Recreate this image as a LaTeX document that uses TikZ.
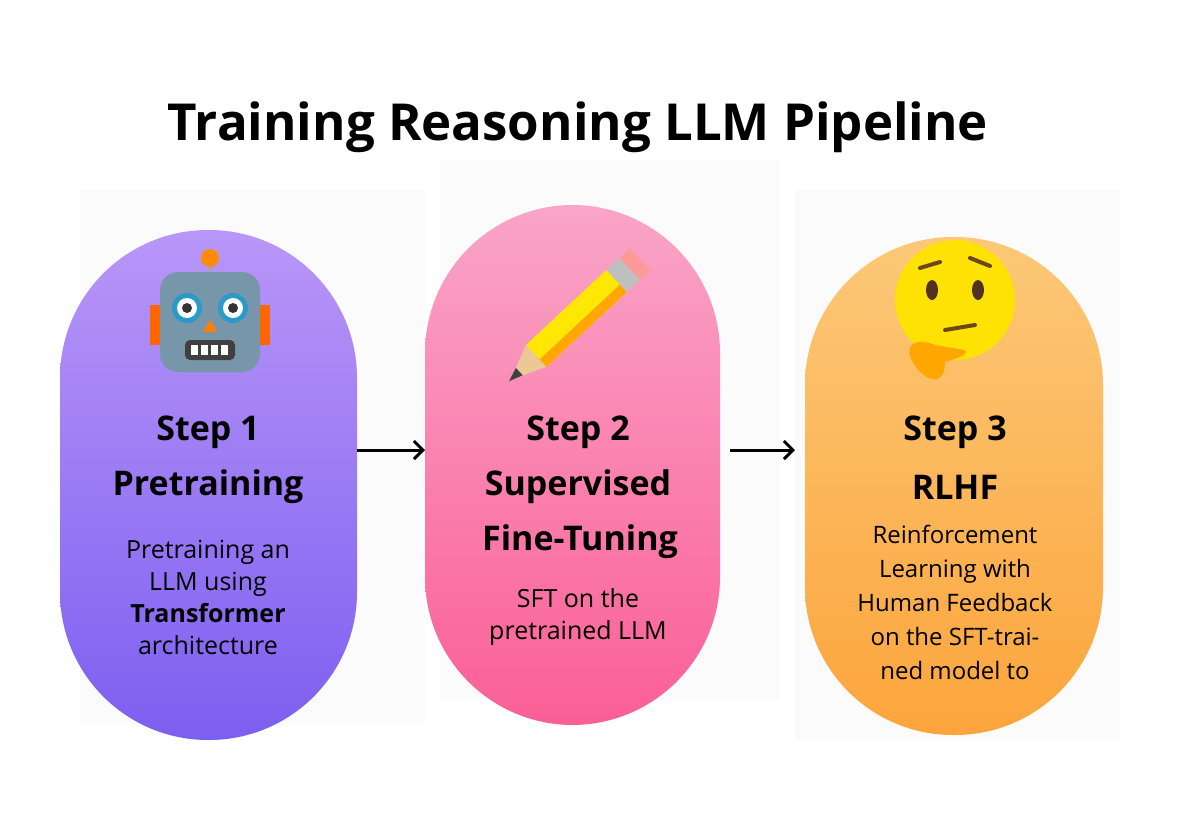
\documentclass[tikz,border=0pt]{standalone}
\usepackage{fontspec}
\usetikzlibrary{arrows.meta}
\setmainfont{Open Sans}
\definecolor{pu1}{RGB}{185,150,248}\definecolor{pu2}{RGB}{125,95,240}
\definecolor{pk1}{RGB}{250,165,200}\definecolor{pk2}{RGB}{250,95,150}
\definecolor{or1}{RGB}{252,200,120}\definecolor{or2}{RGB}{252,165,60}
\definecolor{robo}{RGB}{120,150,170}\definecolor{brow}{RGB}{110,70,30}
\definecolor{eye}{RGB}{80,50,30}\definecolor{wood}{RGB}{235,200,150}
\begin{document}
\begin{tikzpicture}[x=1pt,y=-1pt,
  pill/.style={rounded corners=148pt},
  steptxt/.style={font=\fontsize{34}{36}\selectfont\bfseries,align=center},
  body/.style={font=\fontsize{25}{32}\selectfont,align=center},
  arr/.style={-{Straight Barb[length=9pt,width=18pt]},line width=3pt}]
\useasboundingbox (0,0) rectangle (1200,812);
\fill[white] (0,0) rectangle (1200,812);
% faint backgrounds
\fill[gray!3] (80,190) rectangle (425,725);
\fill[gray!3] (440,160) rectangle (780,700);
\fill[gray!3] (795,190) rectangle (1120,740);
\node[font=\fontsize{51}{54}\selectfont\bfseries] (title) at (578,127) {Training Reasoning LLM Pipeline};
% pills
\shade[pill,top color=pu1,bottom color=pu2] (60,230) rectangle (357,740);
\shade[pill,top color=pk1,bottom color=pk2] (425,205) rectangle (720,725);
\shade[pill,top color=or1,bottom color=or2] (805,237) rectangle (1103,735);
\coordinate (p1r) at (357,450); \coordinate (p2l) at (425,450);
\coordinate (p2r) at (730,450); \coordinate (p3l) at (795,450);
\draw[arr] (p1r) -- (p2l);
\draw[arr] (p2r) -- (p3l);
% robot
\draw[line width=3pt,gray!70] (210,262) -- (210,275);
\fill[orange!90!yellow] (210,258) circle (9);
\fill[orange!80!red] (150,305) rectangle (166,345);
\fill[orange!80!red] (254,305) rectangle (270,345);
\fill[rounded corners=18pt,robo] (160,272) rectangle (260,372);
\foreach \x in {187,233}{\fill[cyan!60!teal] (\x,308) circle (15); \fill[white] (\x,308) circle (10);\fill[black!80] (\x,308) circle (5);}
\fill[orange] (203,332) -- (217,332) -- (210,320) -- cycle;
\fill[black!75,rounded corners=5pt] (185,340) rectangle (235,360);
\foreach \x in {191,201,211,221}{\fill[white] (\x,345) rectangle (\x+7,355);}
% pencil
\begin{scope}[shift={(580,315)},rotate=43]
\fill[yellow!90!orange] (-60,-15) rectangle (50,15);
\fill[orange!70!yellow] (-60,5) rectangle (50,15);
\fill[gray!50] (50,-15) rectangle (68,15);
\fill[pink!80!red] (68,-15) rectangle (82,15);
\fill[wood] (-60,-15) -- (-60,15) -- (-95,0) -- cycle;
\fill[black!75] (-83,-5) -- (-83,5) -- (-97,0) -- cycle;
\end{scope}
% thinking face
\fill[yellow!85!orange] (955,300) circle (60);
\draw[line width=4pt,brow,line cap=round] (920,268) -- (940,262) (970,258) -- (990,266);
\fill[eye] (932,290) ellipse (6 and 10) (978,290) ellipse (6 and 10);
\draw[line width=4pt,brow,line cap=round] (945,330) -- (975,325);
\fill[orange!70!yellow] (920,372) .. controls (900,350) and (910,335) .. (935,345) -- (965,350) .. controls (970,356) and (950,360) .. (945,362) .. controls (945,380) and (935,385) .. (920,372) -- cycle;
% texts
\node[steptxt] (s1) at (208,432) {Step 1};
\node[steptxt] (s1b) at (208,487) {Pretraining};
\node[body] (b1) at (208,597) {Pretraining an\\LLM using\\\textbf{Transformer}\\architecture};
\node[steptxt] (s2) at (578,432) {Step 2};
\node[steptxt] (s2b) at (578,487) {Supervised};
\node[steptxt] (s2c) at (580,542) {Fine-Tuning};
\node[body] (b2) at (578,617) {SFT on the\\pretrained LLM};
\node[steptxt] (s3) at (955,432) {Step 3};
\node[steptxt] (s3b) at (955,487) {RLHF};
\node[body,font=\fontsize{24}{34}\selectfont] (b3) at (955,602) {Reinforcement\\Learning with\\Human Feedback\\on the SFT-trai-\\ned model to};
\end{tikzpicture}
\end{document}
